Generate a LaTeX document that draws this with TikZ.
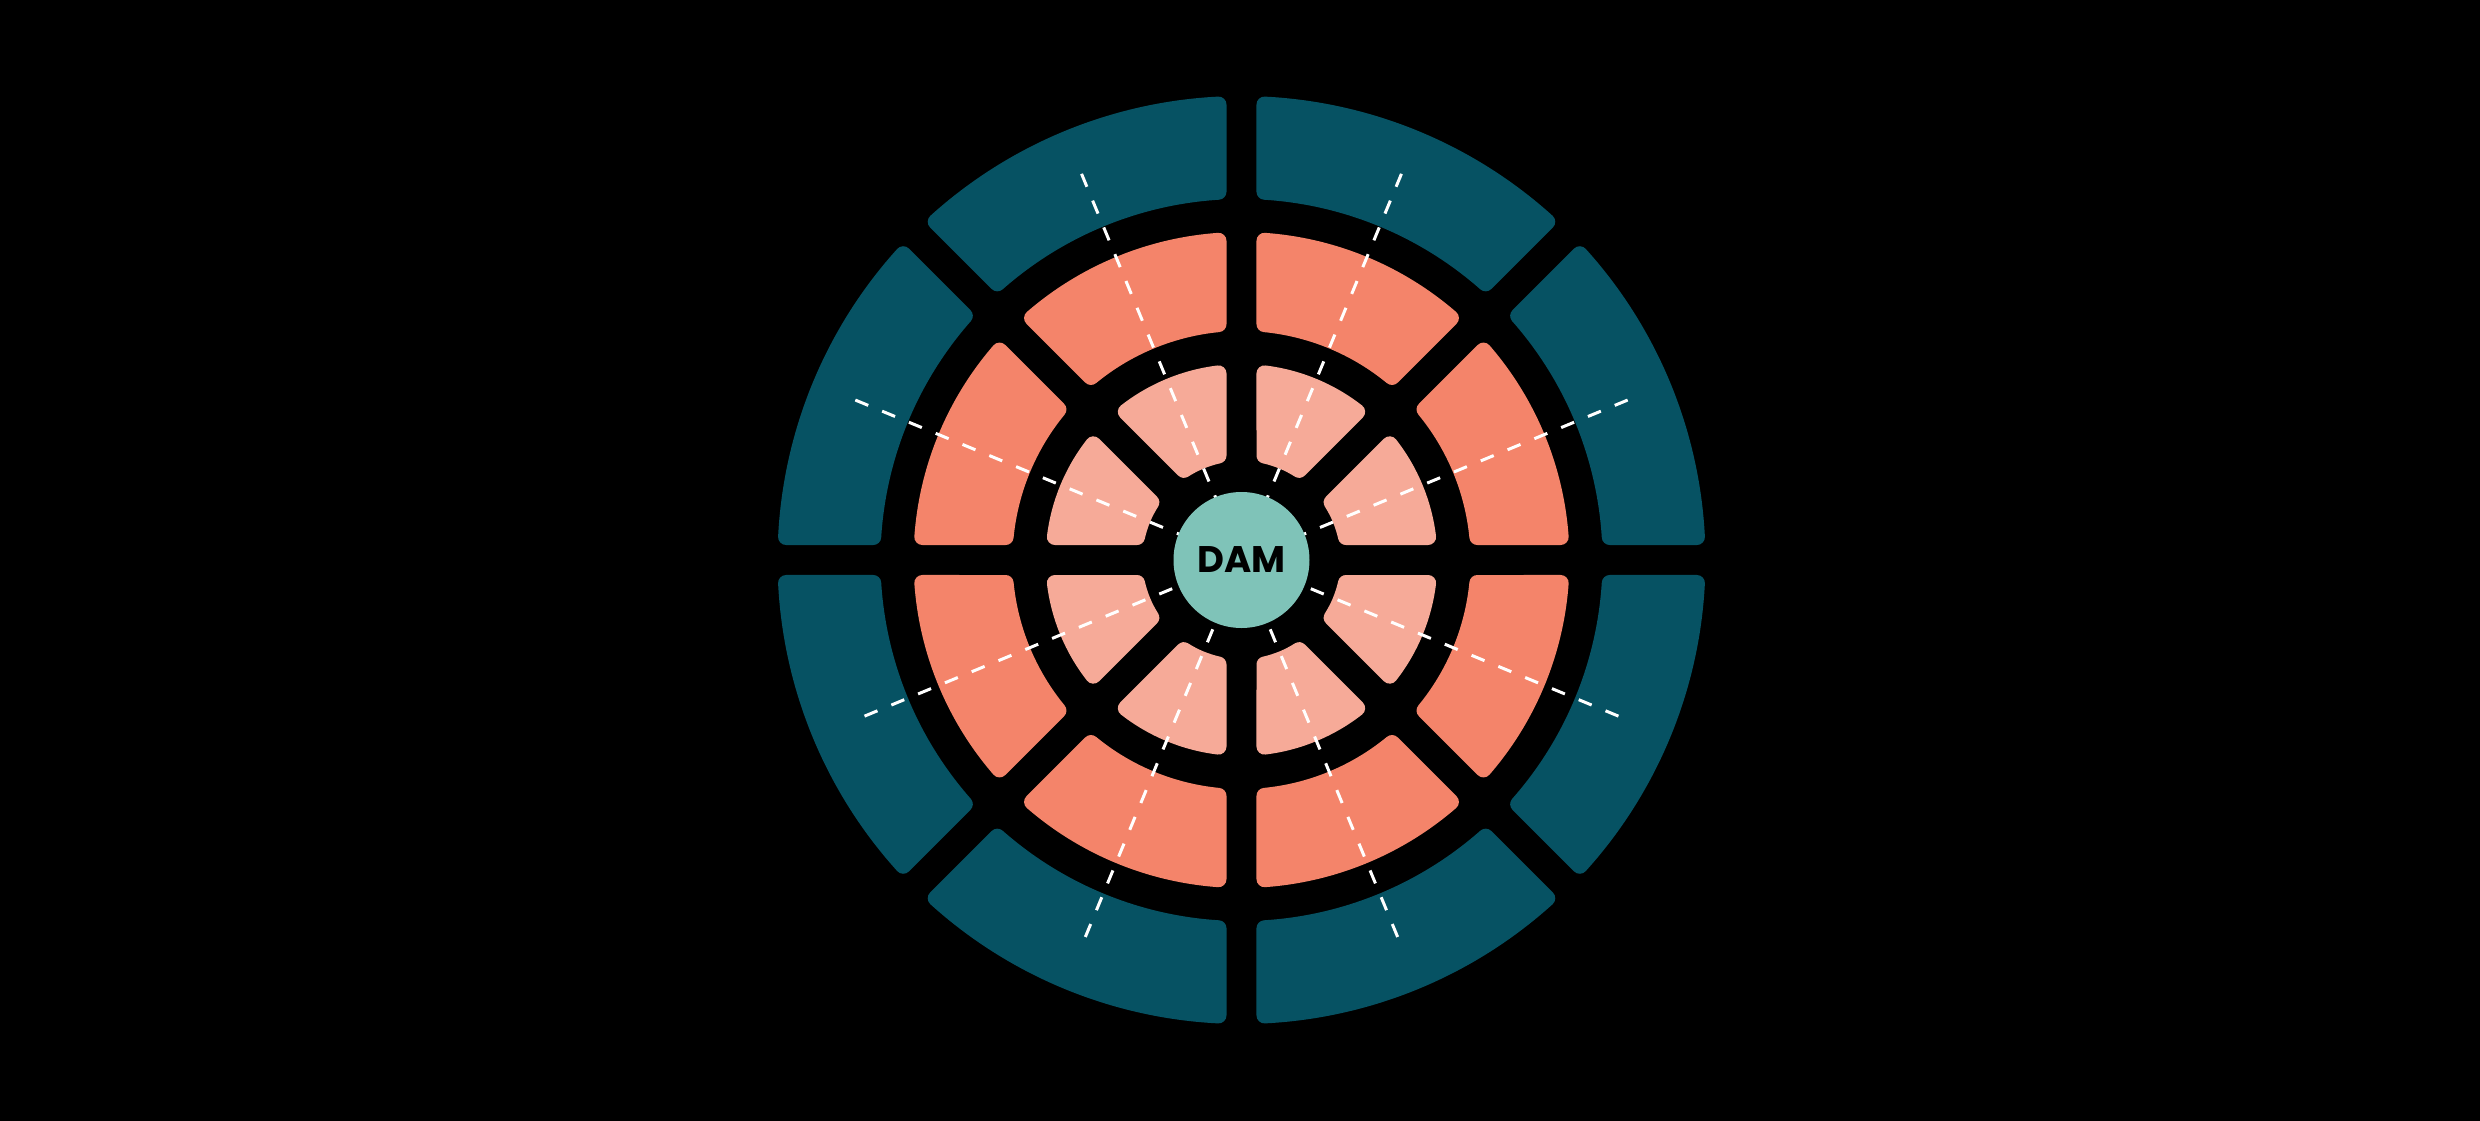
\documentclass[tikz,border=0pt]{standalone}
\usepackage{fontspec}
\newfontfamily\damfont{Poppins}
\definecolor{ringA}{RGB}{6,82,99}
\definecolor{ringB}{RGB}{244,132,106}
\definecolor{ringC}{RGB}{246,170,152}
\definecolor{hub}{RGB}{127,195,184}
\tikzset{
  segfill/.style={fill=#1,draw=#1,line width=16pt,line join=round},
  guide/.style={white,line width=3pt,dash pattern=on 14pt off 15pt},
  hubnode/.style={circle,fill=hub,minimum size=136pt,inner sep=0pt,text=black,
    font=\damfont\bfseries\fontsize{37}{44}\selectfont}
}
\begin{document}
\begin{tikzpicture}[x=1pt,y=1pt]
\useasboundingbox (-1241.5,-560) rectangle (1238.5,560);
\fill[black] (-1250,-570) rectangle (1250,570);
\def\g{15}\def\rad{8}
\foreach \ro/\ri/\col in {464/361/ringA,328/229/ringB,196/99/ringC}{
  \foreach \k in {0,...,7}{
    \pgfmathsetmacro\a{45*\k}
    \pgfmathsetmacro\b{45*\k+45}
    \pgfmathsetmacro\Ro{\ro-\rad}
    \pgfmathsetmacro\Ri{\ri+\rad}
    \pgfmathsetmacro\da{asin((\g+\rad)/\Ro)}
    \pgfmathsetmacro\di{asin((\g+\rad)/\Ri)}
    \pgfmathsetmacro\sa{\a+\da}
    \pgfmathsetmacro\ea{\b-\da}
    \pgfmathsetmacro\si{\b-\di}
    \pgfmathsetmacro\ei{\a+\di}
    \filldraw[segfill=\col]
      (\sa:\Ro) arc[start angle=\sa,end angle=\ea,radius=\Ro]
      -- (\si:\Ri) arc[start angle=\si,end angle=\ei,radius=\Ri] -- cycle;
  }
}
\foreach \i in {0,1,2,3}{
  \pgfmathsetmacro\t{22.5+45*\i}
  \coordinate (ga\i) at (\t:418);
  \coordinate (gb\i) at (\t+180:418);
  \draw[guide] (ga\i) -- (gb\i);
}
\node[hubnode] (dam) at (0,0) {DAM};
\end{tikzpicture}
\end{document}
